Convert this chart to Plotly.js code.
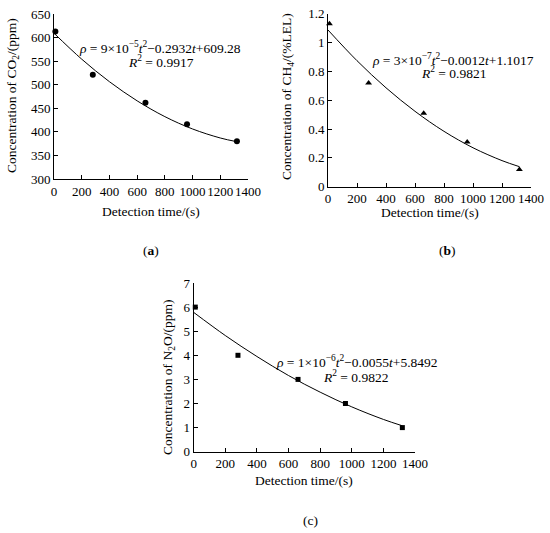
<!DOCTYPE html>
<html>
<head>
<meta charset="utf-8">
<script src="https://cdn.plot.ly/plotly-3.0.1.min.js"></script>
<style>html,body{margin:0;padding:0;background:#fff;}#chart{width:550px;height:533px;}</style>
</head>
<body>
<div id="chart"></div>
<script>
// measured sample times (s)
const sampleTime = [10, 280, 660, 960, 1320];
// measured concentrations
const co2 = [613, 521, 462, 416, 380];
const ch4 = [1.13, 0.72, 0.51, 0.31, 0.12];
const n2o = [6, 4, 3, 2, 1];
// fitted trend curves
const fitTime = [0, 200, 400, 600, 800, 1000, 1200, 1320];
const fitCO2 = [609.3, 554.2, 506.4, 465.8, 432.3, 406.1, 387.0, 379.1];
const fitCH4 = [1.087, 0.874, 0.686, 0.523, 0.384, 0.270, 0.181, 0.139];
const fitN2O = [5.78, 4.82, 3.95, 3.16, 2.47, 1.86, 1.34, 1.075];
// tick labels
const xTicks = [0, 200, 400, 600, 800, 1000, 1200, 1400];

const FONT = 'Liberation Serif';
const W = 550, H = 533;
const px = v => v / W;
const py = v => 1 - v / H;

function markerTrace(x, y, sym, size, xa, ya) {
  return {x: x, y: y, type: 'scatter', mode: 'markers', xaxis: xa, yaxis: ya,
    marker: {symbol: sym, size: size, color: '#000'}, cliponaxis: false, showlegend: false, hoverinfo: 'skip'};
}
function lineTrace(x, y, xa, ya) {
  return {x: x, y: y, type: 'scatter', mode: 'lines', xaxis: xa, yaxis: ya,
    line: {color: '#000', width: 1, shape: 'spline'}, showlegend: false, hoverinfo: 'skip'};
}

const data = [
  lineTrace(fitTime, fitCO2, 'x', 'y'),
  markerTrace(sampleTime, co2, 'circle', 6, 'x', 'y'),
  lineTrace(fitTime, fitCH4, 'x2', 'y2'),
  markerTrace(sampleTime, ch4, 'triangle-up', 6, 'x2', 'y2'),
  lineTrace(fitTime, fitN2O, 'x3', 'y3'),
  markerTrace(sampleTime, n2o, 'square', 5, 'x3', 'y3')
];

function axis(extra) {
  return Object.assign({
    showline: true, linecolor: '#000', linewidth: 1, mirror: false,
    ticks: 'inside', ticklen: 4, tickcolor: '#000', tickwidth: 1,
    showgrid: false, zeroline: false, fixedrange: true, tickangle: 0,
    tickfont: {family: FONT, size: 13, color: '#000'}
  }, extra);
}

function ann(text, x, y, extra) {
  return Object.assign({text: text, x: px(x), y: py(y), xref: 'paper', yref: 'paper',
    showarrow: false, xanchor: 'center', yanchor: 'middle',
    font: {family: FONT, size: 13.5, color: '#000'}}, extra || {});
}

const layout = {
  width: W, height: H,
  margin: {l: 0, r: 0, t: 0, b: 0},
  paper_bgcolor: '#fff', plot_bgcolor: '#fff',
  font: {family: FONT, color: '#000'},
  showlegend: false,
  xaxis: axis({domain: [px(54), px(248)], range: [0, 1400], tickvals: xTicks, anchor: 'y'}),
  yaxis: axis({domain: [py(179), py(14)], range: [300, 650], dtick: 50, anchor: 'x'}),
  xaxis2: axis({domain: [px(328), px(531)], range: [0, 1400], tickvals: xTicks, anchor: 'y2'}),
  yaxis2: axis({domain: [py(186.7), py(13.7)], range: [0, 1.2], dtick: 0.2, anchor: 'x2'}),
  xaxis3: axis({domain: [px(193.7), px(415)], range: [0, 1400], tickvals: xTicks, anchor: 'y3'}),
  yaxis3: axis({domain: [py(451.7), py(283)], range: [0, 7], dtick: 1, anchor: 'x3'}),
  annotations: [
    // axis titles
    ann('Detection time/(s)', 151, 211),
    ann('Concentration of CO<sub>2</sub>/(ppm)', 13, 96, {textangle: -90}),
    ann('Detection time/(s)', 430, 213),
    ann('Concentration of CH<sub>4</sub>/(%LEL)', 287, 97, {textangle: -90}),
    ann('Detection time/(s)', 304, 480),
    ann('Concentration of N<sub>2</sub>O/(ppm)', 168, 378, {textangle: -90}),
    // equations
    ann('<i>ρ</i> = 9×10<sup>−5</sup><i>t</i><sup>2</sup>−0.2932<i>t</i>+609.28', 160, 47),
    ann('<i>R</i><sup>2</sup> = 0.9917', 161, 62),
    ann('<i>ρ</i> = 3×10<sup>−7</sup><i>t</i><sup>2</sup>−0.0012<i>t</i>+1.1017', 453, 59),
    ann('<i>R</i><sup>2</sup> = 0.9821', 453, 73),
    ann('<i>ρ</i> = 1×10<sup>−6</sup><i>t</i><sup>2</sup>−0.0055<i>t</i>+5.8492', 357, 362),
    ann('<i>R</i><sup>2</sup> = 0.9822', 355, 376),
    // panel labels
    ann('(<b>a</b>)', 151, 250),
    ann('(<b>b</b>)', 447, 250),
    ann('(c)', 310, 520)
  ]
};

Plotly.newPlot('chart', data, layout, {staticPlot: true, displayModeBar: false});
</script>
</body>
</html>
